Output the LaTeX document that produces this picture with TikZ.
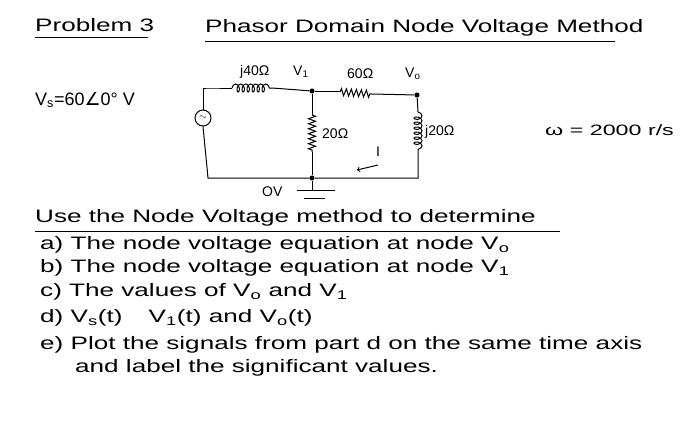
\documentclass[tikz,border=0pt]{standalone}
\usepackage{fontspec}
\setmainfont{Liberation Sans}
\newfontfamily\djv{DejaVu Sans}
\usetikzlibrary{decorations.pathmorphing}
\newcommand{\widetxt}[1]{\scalebox{1.45}[1]{#1}}
\begin{document}
\begin{tikzpicture}[x=1pt,y=-1pt,
  wire/.style={line width=1pt},
  txt/.style={anchor=west,inner sep=0pt,font=\fontsize{18}{18}\selectfont},
  sml/.style={inner sep=0pt,font=\fontsize{14}{14}\selectfont},
  res/.style={wire,decorate,decoration={zigzag,segment length=5pt,amplitude=3.5pt}},
  ind/.style={wire,decorate,decoration={coil,segment length=5pt,amplitude=4pt,aspect=0.6}},
  dot/.style={circle,fill,inner sep=1.8pt}]
\fill[white] (0,0) rectangle (700,434);
\useasboundingbox (0,0) rectangle (700,434);
% titles
\node[txt] (p3) at (35,25) {\widetxt{Problem 3}};
\draw[wire] (35,37) -- (148,37);
\node[txt] (title) at (205,28) {\widetxt{Phasor Domain Node Voltage Method}};
\draw[wire] (205,41) -- (615,41);
% circuit
\coordinate (tl) at (208,88);
\coordinate (bl) at (208,178);
\node[dot] (v1) at (312,91) {};
\node[dot] (v0) at (417,95) {};
\node[dot] (gnd) at (312,178) {};
\coordinate (br) at (418,178);
\node[circle,draw,line width=1pt,minimum size=16pt,inner sep=0pt,fill=white] (src) at (203,118) {$\sim$};
\draw[wire] (src.north) |- (tl) -- (232,88);
\draw[ind] (232,88) -- (272,88);
\draw[wire] (272,88) -- (v1);
\draw[wire] (v1) -- (340,91);
\draw[res] (340,92) -- (372,94);
\draw[wire] (372,94) -- (v0);
\draw[wire] (v1) -- (312,115);
\draw[res] (312,115) -- (312,152);
\draw[wire] (312,152) -- (gnd);
\draw[wire] (v0) -- (418,112);
\draw[ind] (418,112) -- (418,150);
\draw[wire] (418,150) -- (br) -- (gnd) -- (bl) -- (src.south);
\draw[wire] (gnd) -- (312,190);
\draw[wire] (297,190) -- (335,190);
\draw[wire] (304,198) -- (325,198);
% labels
\node[sml,anchor=west] at (240,72) {j40Ω};
\node[sml,anchor=west] at (293,72) {V\textsubscript{1}};
\node[sml,anchor=west] at (347,74) {60Ω};
\node[sml,anchor=west] at (405,74) {V\textsubscript{o}};
\node[sml,anchor=west] at (322,134) {20Ω};
\node[sml,anchor=west] at (425,132) {j20Ω};
\node[sml] at (378,152) {I};
\draw[wire,->] (378,165) -- (357,170);
\node[sml,anchor=west] at (262,192) {OV};
\node[txt] at (35,100) {V\textsubscript{s}=60{\djv∠}0° V};
\node[txt,font=\fontsize{15}{15}\selectfont] at (545,130) {\scalebox{1.55}[1]{ω = 2000 r/s}};
% questions
\node[txt] at (35,218) {\widetxt{Use the Node Voltage method to determine}};
\draw[wire] (35,231) -- (560,231);
\node[txt] at (40,245) {\widetxt{a) The node voltage equation at node V\textsubscript{o}}};
\node[txt] at (40,268) {\widetxt{b) The node voltage equation at node V\textsubscript{1}}};
\node[txt] at (40,292) {\widetxt{c) The values of V\textsubscript{o} and V\textsubscript{1}}};
\node[txt] at (40,318) {\widetxt{d) V\textsubscript{s}(t)\quad V\textsubscript{1}(t) and V\textsubscript{o}(t)}};
\node[txt] at (40,345) {\widetxt{e) Plot the signals from part d on the same time axis}};
\node[txt] at (75,368) {\widetxt{and label the significant values.}};
\end{tikzpicture}
\end{document}
